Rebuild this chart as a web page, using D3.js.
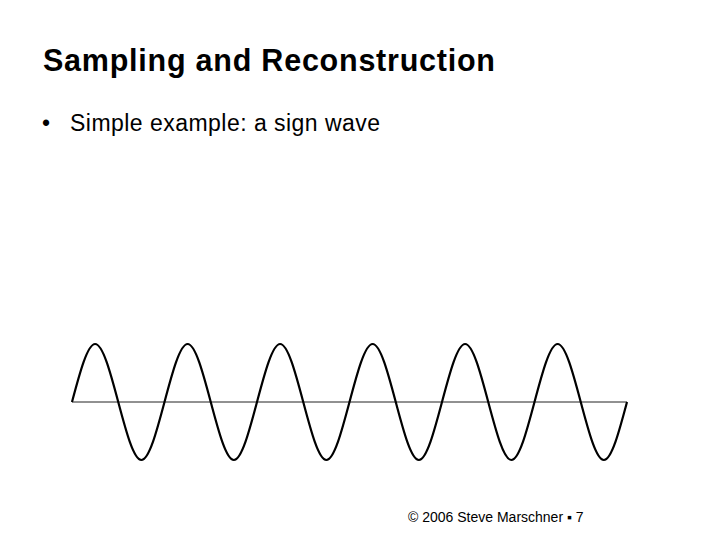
<!DOCTYPE html>
<html>
<head>
<meta charset="utf-8">
<script src="https://cdn.jsdelivr.net/npm/d3@7"></script>
<style>
  body { margin: 0; background: #fff; }
  text { font-family: "Liberation Sans", Arial, sans-serif; }
</style>
</head>
<body>
<div class="slide"></div>
<script>
let width = 720
let height = 540

// wave at quarter-cycle steps: zero, peak, zero, trough...
let cycles = [0, 0.25, 0.5, 0.75, 1, 1.25, 1.5, 1.75, 2, 2.25, 2.5, 2.75, 3,
              3.25, 3.5, 3.75, 4, 4.25, 4.5, 4.75, 5, 5.25, 5.5, 5.75, 6]
let amplitude = [0, 1, 0, -1, 0, 1, 0, -1, 0, 1, 0, -1, 0,
                 1, 0, -1, 0, 1, 0, -1, 0, 1, 0, -1, 0]

let titleText = 'Sampling and Reconstruction'
let bulletText = 'Simple example: a sign wave'
let footerText = '\u00a9 2006 Steve Marschner \u25aa 7'

let svg = d3.select('div.slide')
    .append('svg')
    .attr('width', width)
    .attr('height', height)

let x = d3.scaleLinear().domain([0, 6]).range([72, 627])
let y = d3.scaleLinear().domain([-1, 1]).range([460, 344])

svg.append('text')
    .attr('x', 43)
    .attr('y', 71)
    .attr('textLength', 452)
    .attr('lengthAdjust', 'spacing')
    .style('font-size', '30.5px')
    .style('font-weight', 'bold')
    .text(titleText)

svg.append('text')
    .attr('x', 42)
    .attr('y', 131)
    .style('font-size', '23px')
    .text('\u2022')
svg.append('text')
    .attr('x', 70)
    .attr('y', 131)
    .attr('textLength', 310)
    .attr('lengthAdjust', 'spacing')
    .style('font-size', '23px')
    .text(bulletText)

// the baseline of the wave
svg.append('line')
    .attr('x1', x(0))
    .attr('x2', x(6))
    .attr('y1', y(0))
    .attr('y2', y(0))
    .style('stroke', '#222')
    .style('stroke-width', 1)

let line = d3.line()
    .x((d, i) => x(cycles[i]))
    .y(d => y(d))
    .curve(d3.curveNatural)

svg.append('path')
    .datum(amplitude)
    .attr('d', line)
    .style('fill', 'none')
    .style('stroke', 'black')
    .style('stroke-width', 2.2)

svg.append('text')
    .attr('x', 408)
    .attr('y', 522)
    .style('font-size', '14px')
    .text(footerText)
</script>
</body>
</html>
